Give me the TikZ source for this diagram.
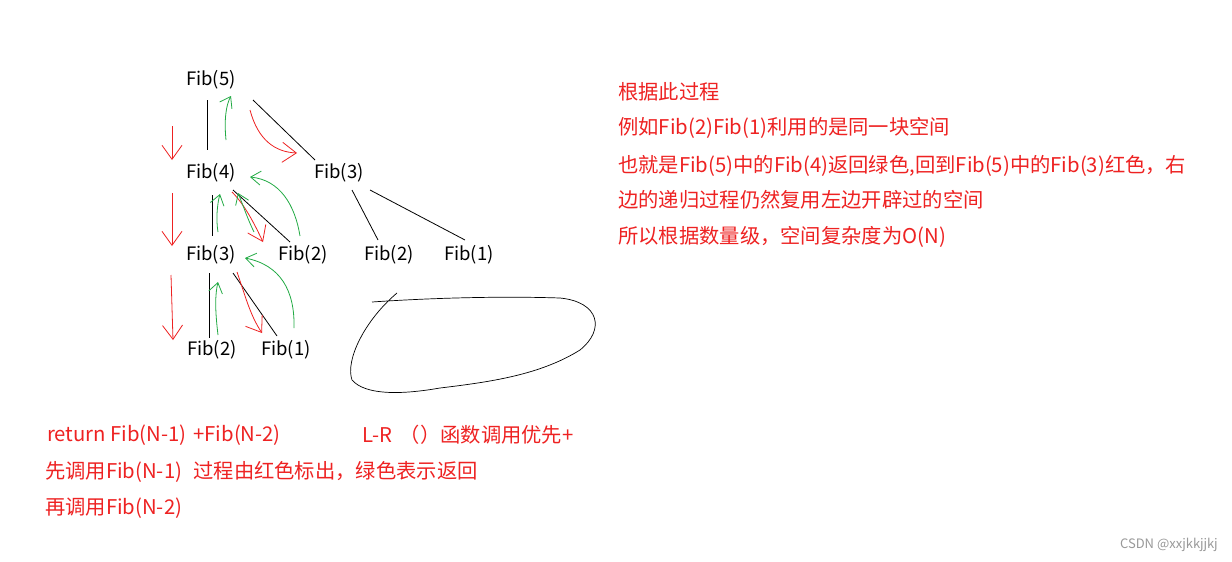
\documentclass[tikz,border=0pt]{standalone}
\usepackage{fontspec}
\setmainfont{Noto Sans CJK SC}
\usetikzlibrary{arrows.meta}
\definecolor{rd}{HTML}{EE2222}
\definecolor{gn}{HTML}{22AA44}
\begin{document}
\begin{tikzpicture}[x=1pt,y=-1pt,
  fib/.style={font=\fontsize{18.5}{20}\selectfont,inner sep=1pt},
  txt/.style={font=\fontsize{20.3}{22}\selectfont,text=rd,anchor=west,inner sep=0pt},
  ra/.style={rd,-{Straight Barb[length=14pt,width=20pt]},line width=0.8pt},
  ga/.style={gn,-{Straight Barb[length=10pt,width=14pt]},line width=0.8pt},
  bl/.style={black,line width=0.8pt}]
\useasboundingbox[fill=white] (0,0) rectangle (1232,562);
\node[fib] (f5) at (211,80) {Fib(5)};
\node[fib] (f4) at (211,173) {Fib(4)};
\node[fib] (f3r) at (339,173) {Fib(3)};
\node[fib] (f3) at (211,255) {Fib(3)};
\node[fib] (f2a) at (303,255) {Fib(2)};
\node[fib] (f2b) at (389,255) {Fib(2)};
\node[fib] (f1b) at (469,255) {Fib(1)};
\node[fib] (f2c) at (212,350) {Fib(2)};
\node[fib] (f1c) at (286,350) {Fib(1)};
% black lines
\draw[bl] (207,100) -- (207,150);
\draw[bl] (253,100) -- (315,160);
\draw[bl] (212,195) -- (212,236);
\draw[bl] (233,190) -- (290,242);
\draw[bl] (352,190) -- (378,240);
\draw[bl] (370,190) -- (465,240);
\draw[bl] (209,273) -- (209,338);
\draw[bl] (233,273) -- (277,336);
% red arrows
\draw[ra] (172,126) -- (172,160);
\draw[ra] (172,193) -- (172,246);
\draw[ra] (171,275) -- (173,340);
\draw[ra] (250,110) .. controls (258,140) and (275,152) .. (297,153);
\draw[ra] (232,192) .. controls (245,205) and (255,225) .. (263,242);
\draw[ra] (237,272) .. controls (245,295) and (250,315) .. (262,333);
% green arrows
\draw[ga] (226,140) .. controls (224,120) and (226,105) .. (231,96);
\draw[ga] (218,232) .. controls (216,220) and (217,205) .. (220,194);
\draw[ga] (254,232) .. controls (248,220) and (243,205) .. (238,193);
\draw[ga] (300,236) .. controls (295,205) and (280,180) .. (250,177);
\draw[ga] (218,335) .. controls (215,310) and (215,295) .. (218,282);
\draw[ga] (294,328) .. controls (295,290) and (280,265) .. (245,258);
% blob
\coordinate (c1) at (397,293);
\draw[bl,line width=0.7pt] (372,302) .. controls (430,298) and (500,296) .. (560,298)
  .. controls (600,302) and (605,330) .. (580,350)
  .. controls (540,375) and (490,382) .. (440,388)
  .. controls (400,395) and (365,395) .. (352,380)
  .. controls (345,360) and (365,320) .. (c1);
% texts
\node[txt] (t1) at (618,92) {根据此过程};
\node[txt] (t2) at (618,128) {例如Fib(2)Fib(1)利用的是同一块空间};
\node[txt] (t3) at (618,166) {也就是Fib(5)中的Fib(4)返回绿色,回到Fib(5)中的Fib(3)红色，右};
\node[txt] (t4) at (618,200) {边的递归过程仍然复用左边开辟过的空间};
\node[txt] (t5) at (618,237) {所以根据数量级，空间复杂度为O(N)};
\node[txt] (b1) at (47,435) {return Fib(N-1)\,\,+Fib(N-2)};
\node[txt] (b2) at (362,435) {L-R \,（）函数调用优先+};
\node[txt] (b3) at (45,472) {先调用Fib(N-1)\,\, 过程由红色标出，绿色表示返回};
\node[txt] (b4) at (45,508) {再调用Fib(N-2)};
\node[font=\fontsize{13}{14}\selectfont,text=gray!80,anchor=east,inner sep=0pt] (w) at (1218,545) {CSDN @xxjkkjjkj};
\end{tikzpicture}
\end{document}
